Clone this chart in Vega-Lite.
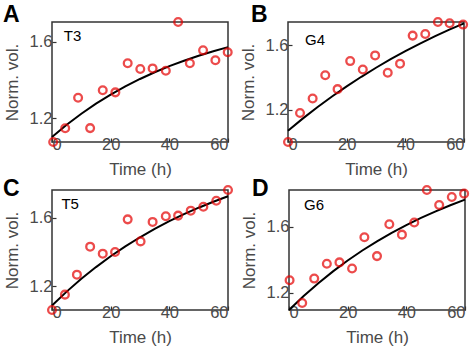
{
  "$schema": "https://vega.github.io/schema/vega-lite/v6.json",
  "padding": {"left": 2, "top": 2, "right": 4, "bottom": 0},
  "config": {
    "font": "Liberation Sans",
    "view": {"stroke": "#333333", "strokeWidth": 1.5},
    "axis": {
      "domain": false, "grid": false,
      "tickColor": "#333333", "tickSize": -4, "tickWidth": 1.2,
      "labelColor": "#4a4a4a", "labelFontSize": 16.5,
      "titleColor": "#4a4a4a", "titleFontSize": 17, "titleFontWeight": "normal"
    },
    "axisX": {"labelPadding": -2, "titlePadding": 9},
    "axisY": {"labelPadding": 4, "titlePadding": 8},
    "title": {"fontSize": 23, "fontWeight": "bold", "color": "black", "anchor": "start", "frame": "bounds"}
  },
  "datasets": {
    "pts": [
      {"panel": "A", "t": 0.4, "v": 1.074}, {"panel": "A", "t": 4.5, "v": 1.146}, {"panel": "A", "t": 8.9, "v": 1.307},
      {"panel": "A", "t": 13.0, "v": 1.147}, {"panel": "A", "t": 17.3, "v": 1.346}, {"panel": "A", "t": 21.6, "v": 1.335},
      {"panel": "A", "t": 25.8, "v": 1.488}, {"panel": "A", "t": 30.1, "v": 1.458}, {"panel": "A", "t": 34.3, "v": 1.461},
      {"panel": "A", "t": 38.8, "v": 1.449}, {"panel": "A", "t": 43.0, "v": 1.705}, {"panel": "A", "t": 47.0, "v": 1.488},
      {"panel": "A", "t": 51.5, "v": 1.556}, {"panel": "A", "t": 55.7, "v": 1.504}, {"panel": "A", "t": 59.9, "v": 1.546},
      {"panel": "B", "t": 0.0, "v": 1.002}, {"panel": "B", "t": 4.1, "v": 1.181}, {"panel": "B", "t": 8.4, "v": 1.270},
      {"panel": "B", "t": 12.7, "v": 1.414}, {"panel": "B", "t": 16.9, "v": 1.328}, {"panel": "B", "t": 21.2, "v": 1.501},
      {"panel": "B", "t": 25.5, "v": 1.449}, {"panel": "B", "t": 29.7, "v": 1.536}, {"panel": "B", "t": 34.0, "v": 1.429},
      {"panel": "B", "t": 38.2, "v": 1.485}, {"panel": "B", "t": 42.5, "v": 1.658}, {"panel": "B", "t": 46.8, "v": 1.668},
      {"panel": "B", "t": 51.1, "v": 1.742}, {"panel": "B", "t": 55.1, "v": 1.734}, {"panel": "B", "t": 59.7, "v": 1.726},
      {"panel": "C", "t": 0.0, "v": 1.061}, {"panel": "C", "t": 4.4, "v": 1.151}, {"panel": "C", "t": 8.5, "v": 1.268},
      {"panel": "C", "t": 13.0, "v": 1.432}, {"panel": "C", "t": 17.3, "v": 1.391}, {"panel": "C", "t": 21.5, "v": 1.401},
      {"panel": "C", "t": 25.8, "v": 1.592}, {"panel": "C", "t": 30.2, "v": 1.463}, {"panel": "C", "t": 34.3, "v": 1.577},
      {"panel": "C", "t": 38.8, "v": 1.610}, {"panel": "C", "t": 43.0, "v": 1.614}, {"panel": "C", "t": 47.3, "v": 1.643},
      {"panel": "C", "t": 51.6, "v": 1.666}, {"panel": "C", "t": 56.0, "v": 1.701}, {"panel": "C", "t": 60.0, "v": 1.764},
      {"panel": "D", "t": 0.2, "v": 1.275}, {"panel": "D", "t": 4.5, "v": 1.137}, {"panel": "D", "t": 8.6, "v": 1.285},
      {"panel": "D", "t": 12.9, "v": 1.375}, {"panel": "D", "t": 17.2, "v": 1.383}, {"panel": "D", "t": 21.5, "v": 1.346},
      {"panel": "D", "t": 25.7, "v": 1.535}, {"panel": "D", "t": 30.0, "v": 1.421}, {"panel": "D", "t": 34.2, "v": 1.614},
      {"panel": "D", "t": 38.5, "v": 1.551}, {"panel": "D", "t": 42.7, "v": 1.624}, {"panel": "D", "t": 47.0, "v": 1.821},
      {"panel": "D", "t": 51.2, "v": 1.730}, {"panel": "D", "t": 55.5, "v": 1.779}, {"panel": "D", "t": 59.7, "v": 1.799}
    ],
    "fit": [
      {"panel": "A", "t": 0, "v": 1.100}, {"panel": "A", "t": 5, "v": 1.1645}, {"panel": "A", "t": 10, "v": 1.2228},
      {"panel": "A", "t": 15, "v": 1.2755}, {"panel": "A", "t": 20, "v": 1.3232}, {"panel": "A", "t": 25, "v": 1.3664},
      {"panel": "A", "t": 30, "v": 1.4054}, {"panel": "A", "t": 35, "v": 1.4407}, {"panel": "A", "t": 40, "v": 1.4727},
      {"panel": "A", "t": 45, "v": 1.5015}, {"panel": "A", "t": 50, "v": 1.5277}, {"panel": "A", "t": 55, "v": 1.5513},
      {"panel": "A", "t": 60, "v": 1.5727},
      {"panel": "B", "t": 0, "v": 1.072}, {"panel": "B", "t": 5, "v": 1.146}, {"panel": "B", "t": 10, "v": 1.2165},
      {"panel": "B", "t": 15, "v": 1.2828}, {"panel": "B", "t": 20, "v": 1.3454}, {"panel": "B", "t": 25, "v": 1.4042},
      {"panel": "B", "t": 30, "v": 1.4599}, {"panel": "B", "t": 35, "v": 1.5125}, {"panel": "B", "t": 40, "v": 1.5620},
      {"panel": "B", "t": 45, "v": 1.6088}, {"panel": "B", "t": 50, "v": 1.6529}, {"panel": "B", "t": 55, "v": 1.6946},
      {"panel": "B", "t": 60, "v": 1.7339},
      {"panel": "C", "t": 0, "v": 1.087}, {"panel": "C", "t": 5, "v": 1.1687}, {"panel": "C", "t": 10, "v": 1.2437},
      {"panel": "C", "t": 15, "v": 1.3125}, {"panel": "C", "t": 20, "v": 1.3757}, {"panel": "C", "t": 25, "v": 1.4338},
      {"panel": "C", "t": 30, "v": 1.4871}, {"panel": "C", "t": 35, "v": 1.5361}, {"panel": "C", "t": 40, "v": 1.5811},
      {"panel": "C", "t": 45, "v": 1.6224}, {"panel": "C", "t": 50, "v": 1.6603}, {"panel": "C", "t": 55, "v": 1.6952},
      {"panel": "C", "t": 60, "v": 1.7272},
      {"panel": "D", "t": 0, "v": 1.095}, {"panel": "D", "t": 5, "v": 1.1795}, {"panel": "D", "t": 10, "v": 1.2571},
      {"panel": "D", "t": 15, "v": 1.3286}, {"panel": "D", "t": 20, "v": 1.3944}, {"panel": "D", "t": 25, "v": 1.4549},
      {"panel": "D", "t": 30, "v": 1.5105}, {"panel": "D", "t": 35, "v": 1.5618}, {"panel": "D", "t": 40, "v": 1.6089},
      {"panel": "D", "t": 45, "v": 1.6522}, {"panel": "D", "t": 50, "v": 1.6921}, {"panel": "D", "t": 55, "v": 1.7288},
      {"panel": "D", "t": 60, "v": 1.7625}
    ],
    "labels": [
      {"panel": "A", "name": "T3", "t": 4.0, "v": 1.63},
      {"panel": "B", "name": "G4", "t": 5.8, "v": 1.629},
      {"panel": "C", "name": "T5", "t": 3.2, "v": 1.683},
      {"panel": "D", "name": "G6", "t": 5.1, "v": 1.732}
    ]
  },
  "spacing": -3,
  "vconcat": [
    {"spacing": 1, "hconcat": [
      {
        "width": 176, "height": 120,
        "title": {"text": "A", "offset": -13},
        "layer": [
          {"data": {"name": "fit"}, "transform": [{"filter": "datum.panel == 'A'"}],
           "mark": {"type": "line", "color": "black", "strokeWidth": 2},
           "encoding": {
             "x": {"field": "t", "type": "quantitative", "scale": {"domain": [0, 60], "nice": false}, "axis": {"title": "Time (h)", "values": [0, 20, 40, 60]}},
             "y": {"field": "v", "type": "quantitative", "scale": {"zero": false, "nice": false}, "axis": {"title": "Norm. vol.", "values": [1.2, 1.6], "format": ".1f"}}
           }},
          {"data": {"name": "pts"}, "transform": [{"filter": "datum.panel == 'A'"}],
           "mark": {"type": "point", "shape": "circle", "filled": false, "color": "#e50000", "strokeWidth": 2.3, "size": 60},
           "encoding": {
             "x": {"field": "t", "type": "quantitative"},
             "y": {"field": "v", "type": "quantitative"}
           }},
          {"data": {"name": "labels"}, "transform": [{"filter": "datum.panel == 'A'"}],
           "mark": {"type": "text", "align": "left", "baseline": "middle", "fontSize": 15, "color": "black"},
           "encoding": {
             "x": {"field": "t", "type": "quantitative"},
             "y": {"field": "v", "type": "quantitative"},
             "text": {"field": "name"}
           }}
        ]
      },
      {
        "width": 176, "height": 120,
        "title": {"text": "B", "offset": -13, "dx": 12},
        "layer": [
          {"data": {"name": "fit"}, "transform": [{"filter": "datum.panel == 'B'"}],
           "mark": {"type": "line", "color": "black", "strokeWidth": 2},
           "encoding": {
             "x": {"field": "t", "type": "quantitative", "scale": {"domain": [0, 60], "nice": false}, "axis": {"title": "Time (h)", "values": [0, 20, 40, 60]}},
             "y": {"field": "v", "type": "quantitative", "scale": {"zero": false, "nice": false}, "axis": {"title": "Norm. vol.", "values": [1.2, 1.6], "format": ".1f"}}
           }},
          {"data": {"name": "pts"}, "transform": [{"filter": "datum.panel == 'B'"}],
           "mark": {"type": "point", "shape": "circle", "filled": false, "color": "#e50000", "strokeWidth": 2.3, "size": 60},
           "encoding": {
             "x": {"field": "t", "type": "quantitative"},
             "y": {"field": "v", "type": "quantitative"}
           }},
          {"data": {"name": "labels"}, "transform": [{"filter": "datum.panel == 'B'"}],
           "mark": {"type": "text", "align": "left", "baseline": "middle", "fontSize": 15, "color": "black"},
           "encoding": {
             "x": {"field": "t", "type": "quantitative"},
             "y": {"field": "v", "type": "quantitative"},
             "text": {"field": "name"}
           }}
        ]
      }
    ]},
    {"spacing": 1, "hconcat": [
      {
        "width": 176, "height": 120,
        "title": {"text": "C", "offset": -19},
        "layer": [
          {"data": {"name": "fit"}, "transform": [{"filter": "datum.panel == 'C'"}],
           "mark": {"type": "line", "color": "black", "strokeWidth": 2},
           "encoding": {
             "x": {"field": "t", "type": "quantitative", "scale": {"domain": [0, 60], "nice": false}, "axis": {"title": "Time (h)", "values": [0, 20, 40, 60]}},
             "y": {"field": "v", "type": "quantitative", "scale": {"zero": false, "nice": false}, "axis": {"title": "Norm. vol.", "values": [1.2, 1.6], "format": ".1f"}}
           }},
          {"data": {"name": "pts"}, "transform": [{"filter": "datum.panel == 'C'"}],
           "mark": {"type": "point", "shape": "circle", "filled": false, "color": "#e50000", "strokeWidth": 2.3, "size": 60},
           "encoding": {
             "x": {"field": "t", "type": "quantitative"},
             "y": {"field": "v", "type": "quantitative"}
           }},
          {"data": {"name": "labels"}, "transform": [{"filter": "datum.panel == 'C'"}],
           "mark": {"type": "text", "align": "left", "baseline": "middle", "fontSize": 15, "color": "black"},
           "encoding": {
             "x": {"field": "t", "type": "quantitative"},
             "y": {"field": "v", "type": "quantitative"},
             "text": {"field": "name"}
           }}
        ]
      },
      {
        "width": 176, "height": 120,
        "title": {"text": "D", "offset": -19, "dx": 12},
        "layer": [
          {"data": {"name": "fit"}, "transform": [{"filter": "datum.panel == 'D'"}],
           "mark": {"type": "line", "color": "black", "strokeWidth": 2},
           "encoding": {
             "x": {"field": "t", "type": "quantitative", "scale": {"domain": [0, 60], "nice": false}, "axis": {"title": "Time (h)", "values": [0, 20, 40, 60]}},
             "y": {"field": "v", "type": "quantitative", "scale": {"zero": false, "nice": false}, "axis": {"title": "Norm. vol.", "values": [1.2, 1.6], "format": ".1f"}}
           }},
          {"data": {"name": "pts"}, "transform": [{"filter": "datum.panel == 'D'"}],
           "mark": {"type": "point", "shape": "circle", "filled": false, "color": "#e50000", "strokeWidth": 2.3, "size": 60},
           "encoding": {
             "x": {"field": "t", "type": "quantitative"},
             "y": {"field": "v", "type": "quantitative"}
           }},
          {"data": {"name": "labels"}, "transform": [{"filter": "datum.panel == 'D'"}],
           "mark": {"type": "text", "align": "left", "baseline": "middle", "fontSize": 15, "color": "black"},
           "encoding": {
             "x": {"field": "t", "type": "quantitative"},
             "y": {"field": "v", "type": "quantitative"},
             "text": {"field": "name"}
           }}
        ]
      }
    ]}
  ]
}
